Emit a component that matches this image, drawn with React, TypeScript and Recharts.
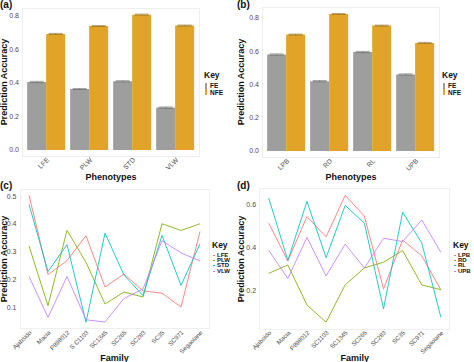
import React from 'react'
import { BarChart, Bar, LineChart, Line, XAxis, YAxis, ErrorBar } from 'recharts'

// panel (a)
const phenotypesA = ['LFE', 'PLW', 'STD', 'VLW']
const feA = [0.406, 0.364, 0.41, 0.253]
const nfeA = [0.693, 0.74, 0.808, 0.743]
const feErrA = [0.004, 0.003, 0.004, 0.004]
const nfeErrA = [0.003, 0.003, 0.003, 0.003]

// panel (b)
const phenotypesB = ['LPB', 'RD', 'RL', 'UPB']
const feB = [0.58, 0.42, 0.595, 0.46]
const nfeB = [0.7, 0.824, 0.754, 0.65]
const feErrB = [0.004, 0.004, 0.004, 0.004]
const nfeErrB = [0.003, 0.003, 0.003, 0.003]

// panel (c)
const familiesC = ['Ajabsido', 'Macia', 'P898012', 'S C1103', 'SC1345', 'SC265', 'SC283', 'SC35', 'SC971', 'Segaolane']
const lfe = [0.503, 0.217, 0.267, 0.357, 0.172, 0.219, 0.158, 0.15, 0.1, 0.372]
const plw = [0.32, 0.105, 0.376, 0.261, 0.111, 0.154, 0.136, 0.4, 0.376, 0.4]
const std = [0.47, 0.228, 0.325, 0.045, 0.366, 0.215, 0.141, 0.358, 0.178, 0.327]
const vlw = [0.21, 0.063, 0.21, 0.054, 0.046, 0.131, 0.165, 0.339, 0.295, 0.266]

// panel (d)
const familiesD = ['Ajabsido', 'Macia', 'P898012', 'SC1103', 'SC1345', 'SC265', 'SC283', 'SC35', 'SC971', 'Segaolane']
const lpb = [0.516, 0.34, 0.546, 0.452, 0.645, 0.548, 0.21, 0.437, 0.363, 0.205]
const rd = [0.282, 0.321, 0.135, 0.055, 0.229, 0.307, 0.334, 0.388, 0.228, 0.206]
const rl = [0.633, 0.342, 0.616, 0.355, 0.598, 0.515, 0.117, 0.566, 0.423, 0.078]
const upb = [0.389, 0.258, 0.449, 0.27, 0.418, 0.307, 0.445, 0.43, 0.53, 0.38]

const ticksA = [0, 0.2, 0.4, 0.6, 0.8]
const ticksC = [0.1, 0.2, 0.3, 0.4, 0.5]
const ticksD = [0.2, 0.4, 0.6]

const GREY = '#9e9e9e'
const GOLD = '#e1a328'
const HUES = ['#F8766D', '#7CAE00', '#00BFC4', '#C77CFF']
const FONT = '"Liberation Sans", Arial, Helvetica, sans-serif'
const tickStyle = { fontSize: 7, fill: '#4d4d4d', fontFamily: FONT }

const barDataA = phenotypesA.map((name, i) => ({ name, FE: feA[i], NFE: nfeA[i], feErr: feErrA[i], nfeErr: nfeErrA[i] }))
const barDataB = phenotypesB.map((name, i) => ({ name, FE: feB[i], NFE: nfeB[i], feErr: feErrB[i], nfeErr: nfeErrB[i] }))
const lineDataC = familiesC.map((name, i) => ({ name, LFE: lfe[i], PLW: plw[i], STD: std[i], VLW: vlw[i] }))
const lineDataD = familiesD.map((name, i) => ({ name, LPB: lpb[i], RD: rd[i], RL: rl[i], UPB: upb[i] }))

type Box = { left: number; top: number; right: number; bottom: number }

// 45 degree labels that end just under the tick, like ggplot's angle=45, hjust=1
function SlantTick({ x, y, payload, size = 6.2 }: { x?: number; y?: number; payload?: { value: string }; size?: number }) {
  const tx = (x ?? 0) + 1.5
  const ty = (y ?? 0) + 1
  return (
    <text
      x={tx}
      y={ty}
      dy="0.35em"
      textAnchor="end"
      transform={`rotate(-45 ${tx} ${ty})`}
      fontSize={size}
      fill="#4d4d4d"
      fontFamily={FONT}
    >
      {payload?.value}
    </text>
  )
}

function PanelFrame({ box }: { box: Box }) {
  return (
    <div
      style={{
        position: 'absolute',
        left: box.left,
        top: box.top,
        width: box.right - box.left,
        height: box.bottom - box.top,
        border: '1px solid #eeeeee',
        boxSizing: 'border-box',
      }}
    />
  )
}

function Titles({ letter, x0, y0, box, xTitle }: { letter: string; x0: number; y0: number; box: Box; xTitle: string }) {
  const cy = (box.top + box.bottom) / 2
  const cx = (box.left + box.right) / 2
  return (
    <>
      <div style={{ position: 'absolute', left: x0, top: y0 - 1, fontSize: 10, fontWeight: 'bold', lineHeight: '11px' }}>
        {letter}
      </div>
      <div
        style={{
          position: 'absolute',
          left: x0 + 4 - 60,
          top: cy - 5,
          width: 120,
          height: 10,
          lineHeight: '10px',
          textAlign: 'center',
          fontSize: 9,
          fontWeight: 'bold',
          transform: 'rotate(-90deg)',
        }}
      >
        Prediction Accuracy
      </div>
      <div
        style={{
          position: 'absolute',
          left: cx - 60,
          top: y0 + 172,
          width: 120,
          lineHeight: '10px',
          textAlign: 'center',
          fontSize: 9,
          fontWeight: 'bold',
        }}
      >
        {xTitle}
      </div>
    </>
  )
}

function BarKey({ left, top }: { left: number; top: number }) {
  return (
    <div style={{ position: 'absolute', left, top, fontWeight: 'bold' }}>
      <div style={{ fontSize: 8.5, lineHeight: '10px' }}>Key</div>
      <div style={{ position: 'relative', marginTop: 2 }}>
        <div style={{ position: 'absolute', left: 1, top: 1, width: 1.5, height: 6, background: GREY }} />
        <div style={{ position: 'absolute', left: 1, top: 7, width: 1.5, height: 6, background: GOLD }} />
        <div style={{ paddingLeft: 6, fontSize: 6.5, lineHeight: '7px' }}>FE</div>
        <div style={{ paddingLeft: 6, fontSize: 6.5, lineHeight: '7px' }}>NFE</div>
      </div>
    </div>
  )
}

function LineKey({ left, top, labels }: { left: number; top: number; labels: string[] }) {
  return (
    <div style={{ position: 'absolute', left, top, fontWeight: 'bold', whiteSpace: 'nowrap' }}>
      <div style={{ fontSize: 8.5, lineHeight: '10px' }}>Key</div>
      <div style={{ marginTop: 3 }}>
        {labels.map((l, i) => (
          <div key={l} style={{ position: 'relative', paddingLeft: 5, fontSize: 6, lineHeight: '5.2px' }}>
            <span style={{ position: 'absolute', left: 1, top: 2, width: 2, height: 1, background: HUES[i] }} />
            {l}
          </div>
        ))}
      </div>
    </div>
  )
}

function BarPanel({ data, x0, width, yAxisWidth, top, xHeight, domain }: {
  data: typeof barDataA
  x0: number
  width: number
  yAxisWidth: number
  top: number
  xHeight: number
  domain: [number, number]
}) {
  return (
    <div style={{ position: 'absolute', left: x0, top: 0 }}>
      <BarChart
        width={width}
        height={181}
        data={data}
        margin={{ top, right: 0, bottom: 0, left: 0 }}
        barCategoryGap="5%"
        barGap={0}
      >
        <XAxis
          dataKey="name"
          interval={0}
          axisLine={false}
          tickLine={false}
          tickSize={1}
          tickMargin={0}
          tick={<SlantTick size={6.8} />}
          height={xHeight}
          padding={{ left: 3, right: 3 }}
        />
        <YAxis
          type="number"
          domain={domain}
          allowDataOverflow
          ticks={ticksA}
          tickFormatter={(v: number) => v.toFixed(1)}
          axisLine={false}
          tickLine={false}
          tickSize={1}
          tickMargin={2}
          tick={tickStyle}
          width={yAxisWidth}
        />
        <Bar dataKey="FE" fill={GREY} isAnimationActive={false}>
          <ErrorBar dataKey="feErr" width={7} stroke="#666" strokeWidth={0.6} />
        </Bar>
        <Bar dataKey="NFE" fill={GOLD} isAnimationActive={false}>
          <ErrorBar dataKey="nfeErr" width={7} stroke="#8a6a20" strokeWidth={0.6} />
        </Bar>
      </BarChart>
    </div>
  )
}

function LinePanel({ data, keys, x0, right, yAxisWidth, top, xHeight, domain, ticks, pad }: {
  data: Record<string, string | number>[]
  keys: string[]
  x0: number
  right: number
  yAxisWidth: number
  top: number
  xHeight: number
  domain: [number, number]
  ticks: number[]
  pad: number
}) {
  return (
    <div style={{ position: 'absolute', left: x0, top: 181 }}>
      <LineChart width={237} height={181} data={data} margin={{ top, right, bottom: 0, left: 0 }}>
        <XAxis
          dataKey="name"
          interval={0}
          axisLine={false}
          tickLine={false}
          tickSize={1}
          tickMargin={0}
          tick={<SlantTick />}
          height={xHeight}
          padding={{ left: pad, right: pad }}
        />
        <YAxis
          type="number"
          domain={domain}
          allowDataOverflow
          ticks={ticks}
          tickFormatter={(v: number) => v.toFixed(1)}
          axisLine={false}
          tickLine={false}
          tickSize={1}
          tickMargin={2}
          tick={tickStyle}
          width={yAxisWidth}
        />
        {keys.map((k, i) => (
          <Line
            key={k}
            type="linear"
            dataKey={k}
            stroke={HUES[i]}
            strokeWidth={1}
            strokeOpacity={0.85}
            dot={false}
            isAnimationActive={false}
          />
        ))}
      </LineChart>
    </div>
  )
}

export default function App() {
  const boxA: Box = { left: 22, top: 7.6, right: 200, bottom: 156.7 }
  const boxB: Box = { left: 262, top: 7, right: 440, bottom: 157.8 }
  const boxC: Box = { left: 19.5, top: 188.8, right: 209.5, bottom: 329.5 }
  const boxD: Box = { left: 259.1, top: 188.4, right: 450.5, bottom: 329.7 }
  return (
    <div style={{ position: 'relative', width: 474, height: 362, background: '#fff', fontFamily: FONT, overflow: 'hidden', color: '#111' }}>
      <style>{'body{margin:0}'}</style>
      <PanelFrame box={boxA} />
      <PanelFrame box={boxB} />
      <PanelFrame box={boxC} />
      <PanelFrame box={boxD} />

      <BarPanel data={barDataA} x0={0} width={200} yAxisWidth={22} top={7.6} xHeight={24.3} domain={[-0.04, 0.85]} />
      <BarPanel data={barDataB} x0={237} width={203} yAxisWidth={25} top={7} xHeight={23.2} domain={[-0.041, 0.866]} />
      <LinePanel data={lineDataC} keys={['LFE', 'PLW', 'STD', 'VLW']} x0={0} right={27.5} yAxisWidth={19.5} top={7.8} xHeight={32.5} domain={[0.019, 0.526]} ticks={ticksC} pad={9.5} />
      <LinePanel data={lineDataD} keys={['LPB', 'RD', 'RL', 'UPB']} x0={237} right={23.5} yAxisWidth={22.1} top={7.4} xHeight={32.3} domain={[0.02, 0.677]} ticks={ticksD} pad={9.6} />

      <Titles letter="(a)" x0={0} y0={0} box={boxA} xTitle="Phenotypes" />
      <Titles letter="(b)" x0={237} y0={0} box={boxB} xTitle="Phenotypes" />
      <Titles letter="(c)" x0={0} y0={181} box={boxC} xTitle="Family" />
      <Titles letter="(d)" x0={237} y0={181} box={boxD} xTitle="Family" />

      <BarKey left={204} top={70} />
      <BarKey left={442} top={70} />
      <LineKey left={212} top={240} labels={['LFE', 'PLW', 'STD', 'VLW']} />
      <LineKey left={453} top={240} labels={['LPB', 'RD', 'RL', 'UPB']} />
    </div>
  )
}
